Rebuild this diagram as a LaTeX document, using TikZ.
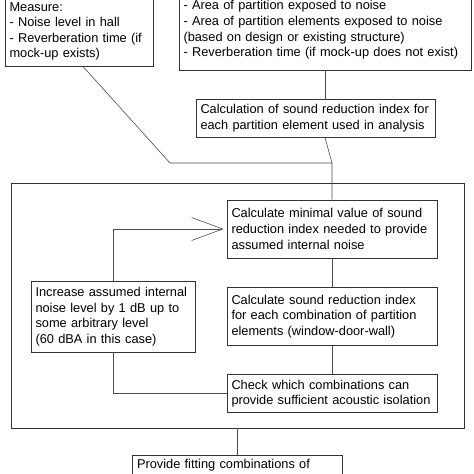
\documentclass[tikz,border=0pt]{standalone}
\usepackage{fontspec}
\setmainfont{Liberation Sans}
\usepackage{tikz}
\usetikzlibrary{arrows.meta,shapes}
\tikzstyle{box}=[rectangle,draw=black!80,line width=0.9pt,align=left,inner xsep=4.5pt,font=\fontsize{12.8}{15.6}\selectfont]
\tikzstyle{frame}=[rectangle,draw=black!80,line width=0.9pt,inner sep=0pt]
\tikzstyle{edge} = [draw,black!70,line width=0.6pt]
\tikzstyle{barb} = [-{Straight Barb[length=31pt,width=23pt]},shorten >=3pt]

\begin{document}
\begin{tikzpicture}[x=1pt,y=-1pt]
    \useasboundingbox (0,0) rectangle (474,474);
    % input data
    \node[box, text width=139, minimum height=69] (meas) at (79,31.5)
        {Measure:\\- Noise level in hall\\- Reverberation time (if\\mock-up exists)};
    \node[box, text width=283, minimum height=80] (area) at (325,30)
        {- Area of partition exposed to noise\\- Area of partition elements exposed to noise\\(based on design or existing structure)\\- Reverberation time (if mock-up does not exist)};
    \node[box, text width=230, minimum height=38] (calcidx) at (315.5,118)
        {Calculation of sound reduction index for\\each partition element used in analysis};
    % the loop
    \node[frame, minimum width=453, minimum height=245] (loop) at (237.5,305.5) {};
    \node[box, text width=201, minimum height=58] (minval) at (332,229)
        {Calculate minimal value of sound\\reduction index needed to provide\\assumed internal noise};
    \node[box, text width=155, minimum height=71] (incr) at (113,316.5)
        {Increase assumed internal\\noise level by 1 dB up to\\some arbitrary level\\(60 dBA in this case)};
    \node[box, text width=201, minimum height=58] (comb) at (332,316.5)
        {Calculate sound reduction index\\for each combination of partition\\elements (window-door-wall)};
    \node[box, text width=201, minimum height=38] (check) at (332,393.5)
        {Check which combinations can\\provide sufficient acoustic isolation};
    % result
    \node[box, text width=201, anchor=north] (provide) at (237.5,455)
        {Provide fitting combinations of};
    % Connect the boxes
    \coordinate (join) at (332,163);
    \coordinate (bend) at (170,163);
    \path[edge] (area.south) -- (area.south |- calcidx.north);
    \path[edge] (calcidx.south -| area.south) -- (join);
    \path[edge] ([xshift=4pt]meas.south) -- (bend) -- (join) -- (minval.north);
    \foreach \source/\dest in {minval/comb, comb/check, loop/provide}
        \path[edge] (\source) -- (\dest);
    \path[edge] (incr.south) |- (check.west);
    \path[edge, barb] (incr.north) |- (minval.west);
\end{tikzpicture}
\end{document}
